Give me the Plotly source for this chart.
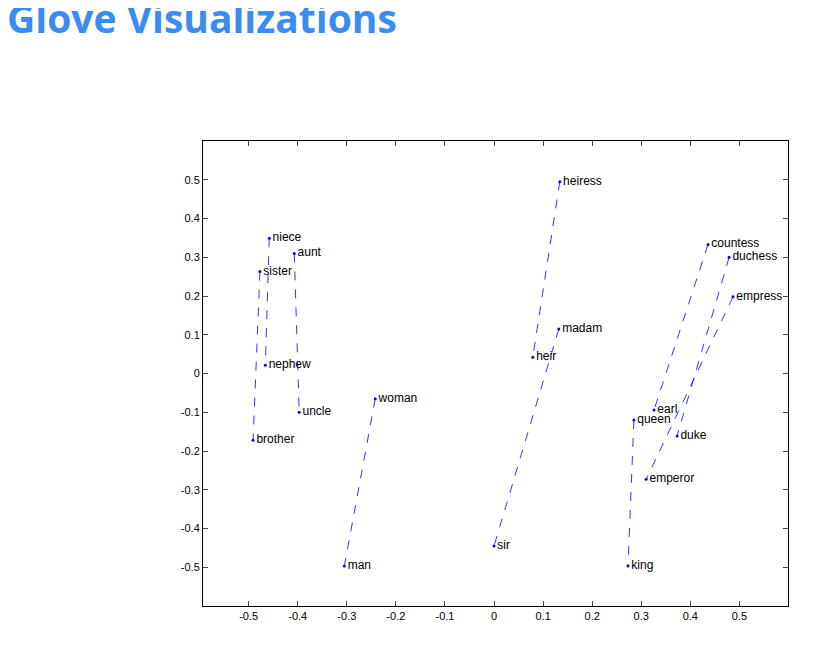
import plotly.graph_objects as go

words = ["niece","nephew","aunt","uncle","sister","brother","woman","man",
         "heiress","heir","madam","sir","countess","earl","duchess","duke",
         "empress","emperor","queen","king"]
xs = [-0.458,-0.466,-0.407,-0.397,-0.477,-0.491,-0.242,-0.305,
      0.134,0.079,0.132,0.0,0.436,0.326,0.479,0.373,
      0.487,0.310,0.285,0.273]
ys = [0.349,0.021,0.310,-0.100,0.263,-0.172,-0.065,-0.497,
      0.495,0.042,0.115,-0.445,0.333,-0.094,0.300,-0.161,
      0.198,-0.273,-0.120,-0.497]
ticks = [-0.5,-0.4,-0.3,-0.2,-0.1,0,0.1,0.2,0.3,0.4,0.5]

fig = go.Figure()
for i in range(0, len(words), 2):
    fig.add_trace(go.Scatter(x=xs[i:i+2], y=ys[i:i+2], mode="lines+markers",
        line=dict(color="#0000ff", width=0.8, dash="dash"),
        marker=dict(size=3, color="#0000ff"), hoverinfo="skip"))
fig.add_trace(go.Scatter(x=xs, y=ys, mode="text", text=[" " + w for w in words],
    textposition="middle right",
    textfont=dict(family="Liberation Sans", size=12, color="black")))

ax = dict(range=[-0.6,0.6], tickvals=ticks, ticktext=[("%g" % t) for t in ticks],
          showgrid=False, zeroline=False, showline=True, mirror="ticks",
          linecolor="black", linewidth=1, ticks="inside", ticklen=5,
          tickfont=dict(family="Liberation Sans", size=11, color="black"))
fig.update_layout(
    width=830, height=645, showlegend=False, plot_bgcolor="white", paper_bgcolor="white",
    margin=dict(l=195, r=50, t=133, b=47),
    xaxis=dict(ax, range=[-0.593,0.599]), yaxis=ax,
    annotations=[dict(text="<b>Glove Visualizations</b>", xref="paper", yref="paper",
        x=-198/585, y=1+(133-9)/465, xanchor="left", yanchor="middle", showarrow=False,
        font=dict(family="Open Sans", size=39, color="#3b8cf0"))])
fig.write_html("out.html")
